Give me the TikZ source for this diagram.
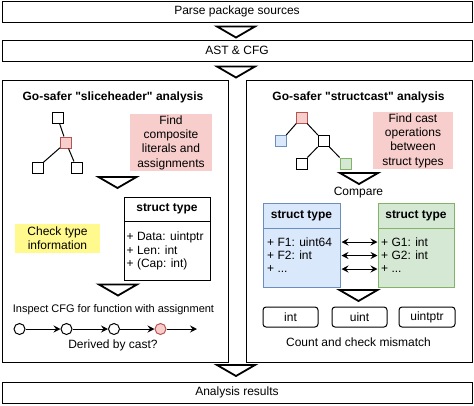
\documentclass[tikz,border=0pt]{standalone}
\usepackage{fontspec}
\setmainfont{Liberation Sans}
\newfontfamily\plainlib{Liberation Sans}
\usetikzlibrary{arrows.meta}
\definecolor{pinkf}{HTML}{F8CECC}
\definecolor{pinkd}{HTML}{B85450}
\definecolor{bluef}{HTML}{DAE8FC}
\definecolor{blued}{HTML}{6C8EBF}
\definecolor{greenf}{HTML}{D5E8D4}
\definecolor{greend}{HTML}{82B366}
\definecolor{yelf}{HTML}{FFF98E}
\newcommand\downtri[3]{\draw[tribox] ({#1-19},#2) -- ({#1+19},#2) -- (#1,{#2+11}) -- cycle node[coordinate] (#3) at (#1,#2) {};}
\begin{document}
\begin{tikzpicture}[x=1pt,y=-1pt,
  fs/.style={font=\fontsize{12}{14}\selectfont},
  bar/.style={draw, line width=1pt, minimum width=470pt, minimum height=21pt, inner sep=0pt, fs},
  panel/.style={draw, line width=1pt, minimum width=226pt, minimum height=282pt, inner sep=0pt},
  tribox/.style={draw, fill=white, line width=1.8pt, line join=miter},
  ttl/.style={font=\plainlib\fontsize{12}{14}\selectfont\bfseries, inner sep=0pt},
  note/.style={align=center, inner sep=0pt, font=\fontsize{12}{14.3}\selectfont},
  sq/.style={draw, line width=1pt, fill=white, minimum size=11pt, inner sep=0pt},
  tline/.style={line width=1pt},
  hdr/.style={draw, line width=0.9pt, inner sep=0pt, font=\fontsize{12}{14}\selectfont\bfseries},
  body/.style={draw, line width=0.9pt, inner sep=0pt},
  field/.style={anchor=west, inner sep=0pt, font=\fontsize{12}{14}\selectfont},
  circ/.style={circle, draw, line width=1pt, fill=white, minimum size=11pt, inner sep=0pt},
  arr/.style={line width=1pt, -{Stealth[length=7pt,width=7pt,inset=2.5pt]}},
  darr/.style={line width=1pt, {Stealth[length=7pt,width=7pt,inset=2.5pt]}-{Stealth[length=7pt,width=7pt,inset=2.5pt]}},
  tbox/.style={draw, line width=1pt, rounded corners=3pt, minimum height=20pt, inner sep=0pt, font=\fontsize{12}{14}\selectfont},
  plain/.style={inner sep=0pt, font=\fontsize{12}{14}\selectfont}
]
\useasboundingbox (0,0) rectangle (474,405);

% top bars
\node[bar] (parse) at (237,11.5) {Parse package sources};
\downtri{236}{26.5}{t1}
\node[bar] (ast) at (237,50.5) {AST \& CFG};
\downtri{236}{66.5}{t2}

% panels
\node[panel] (lpanel) at (115,221) {};
\node[panel] (rpanel) at (359,221) {};

% bottom
\downtri{236}{365}{t3}
\node[bar] (res) at (237,392.5) {Analysis results};

% ---------------- left panel ----------------
\node[ttl] (ltitle) at (113,97) {Go-safer "sliceheader" analysis};
\node[sq] (la) at (57.5,117.5) {};
\node[sq, fill=pinkf, draw=pinkd] (lb) at (66,142.5) {};
\node[sq] (lc) at (37.5,167.5) {};
\node[sq] (ld) at (76.5,167.5) {};
\draw[tline] (la) -- (lb);
\draw[tline] (lb) -- (lc);
\draw[tline] (lb) -- (ld);
\node[note, fill=pinkf, minimum width=82pt, minimum height=57pt] (lfind) at (171,142.5) {Find\\composite\\literals and\\assignments};
\downtri{117.5}{177}{t4}

\node[hdr, minimum width=86pt, minimum height=24pt] (lsh) at (167,209) {struct type};
\node[body, minimum width=86pt, minimum height=59pt] (lsb) at (167,250.5) {};
\node[field] (lf1) at (126.5,237) {+ Data: uintptr};
\node[field] (lf2) at (126.5,250.5) {+ Len: int};
\node[field] (lf3) at (126.5,264) {+ (Cap: int)};

\node[note, fill=yelf, minimum width=85pt, minimum height=29pt] (lchk) at (57.5,238.5) {Check type\\information};
\downtri{118}{284.5}{t5}

\node[inner sep=0pt, font=\fontsize{11}{13}\selectfont] (linsp) at (113.5,310) {Inspect CFG for function with assignment};
\node[circ] (c1) at (19.5,329) {};
\node[circ] (c2) at (66.5,329) {};
\node[circ] (c3) at (114,329) {};
\node[circ, fill=pinkf, draw=pinkd] (c4) at (160.5,329) {};
\coordinate (cend) at (197,329);
\draw[arr] (c1) -- (c2);
\draw[arr] (c2) -- (c3);
\draw[arr] (c3) -- (c4);
\draw[arr] (c4) -- (cend);
\node[plain] (lder) at (113,345) {Derived by cast?};

% ---------------- right panel ----------------
\node[ttl] (rtitle) at (358.5,97) {Go-safer "structcast" analysis};
\node[sq, fill=pinkf, draw=pinkd] (ra) at (301.5,117.5) {};
\node[sq, fill=bluef, draw=blued] (rb) at (281,141) {};
\node[sq] (rc) at (323.5,141) {};
\node[sq] (rd) at (301.5,163.5) {};
\node[sq, fill=greenf, draw=greend] (re) at (345.5,163.5) {};
\draw[tline] (ra) -- (rb);
\draw[tline] (ra) -- (rc);
\draw[tline] (rc) -- (rd);
\draw[tline] (rc) -- (re);
\node[note, fill=pinkf, minimum width=80pt, minimum height=57pt] (rfind) at (413,140.5) {Find cast\\operations\\between\\struct types};
\downtri{359}{173}{t6}
\node[plain] (rcmp) at (358.5,193) {Compare};

\node[hdr, fill=bluef, draw=blued, minimum width=77pt, minimum height=25pt] (bh) at (301.5,215.5) {struct type};
\node[body, fill=bluef, draw=blued, minimum width=77pt, minimum height=59pt] (bb) at (301.5,257.5) {};
\node[field] (bf1) at (267,242) {+ F1: uint64};
\node[field] (bf2) at (267,255.5) {+ F2: int};
\node[field] (bf3) at (267,269) {+ ...};

\node[hdr, fill=greenf, draw=greend, minimum width=76pt, minimum height=25pt] (gh) at (416,215.5) {struct type};
\node[body, fill=greenf, draw=greend, minimum width=76pt, minimum height=59pt] (gb) at (416,257.5) {};
\node[field] (gf1) at (381,242) {+ G1: int};
\node[field] (gf2) at (381,255.5) {+ G2: int};
\node[field] (gf3) at (381,269) {+ ...};

\coordinate (a1l) at (341.5,242);  \coordinate (a1r) at (377.5,242);
\coordinate (a2l) at (341.5,255.5);\coordinate (a2r) at (377.5,255.5);
\coordinate (a3l) at (341.5,269);  \coordinate (a3r) at (377.5,269);
\draw[darr] (a1l) -- (a1r);
\draw[darr] (a2l) -- (a2r);
\draw[darr] (a3l) -- (a3r);

\downtri{358.5}{290}{t7}
\node[tbox, minimum width=55pt] (tint) at (290.5,317) {int};
\node[tbox, minimum width=55pt] (tuint) at (359.5,317) {uint};
\node[tbox, minimum width=56pt] (tptr) at (427,317) {uintptr};
\node[plain] (rcnt) at (358.5,342) {Count and check mismatch};
\end{tikzpicture}
\end{document}
